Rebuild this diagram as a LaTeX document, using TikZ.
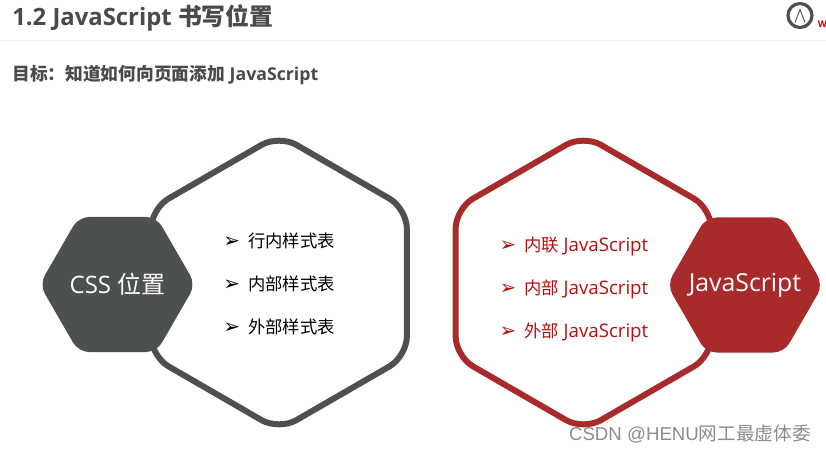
\documentclass[tikz,border=0pt]{standalone}
\usepackage{fontspec}
\setmainfont{Open Sans}
\newfontfamily\cjk{Noto Sans CJK SC}
\newfontfamily\sym{DejaVu Sans}
\newfontfamily\wmark{Liberation Sans}
\usetikzlibrary{shapes.geometric}
\definecolor{csscol}{HTML}{4D514E}
\definecolor{jscol}{HTML}{A92A2A}
\definecolor{itemred}{HTML}{B70F0F}
\definecolor{headcol}{HTML}{4A4A4A}
\newcommand{\itemmark}{{\sym\fontsize{15pt}{15pt}\selectfont ➢}\hspace{6pt}}
\newcommand{\jsword}{{\fontsize{14pt}{16pt}\selectfont JavaScript}}

\begin{document}
\begin{tikzpicture}[x=0.75pt, y=-0.75pt, node distance=32.25pt,
                    big hex/.style={regular polygon,regular polygon sides=6,shape border rotate=30,minimum size=221.5pt,
                                    inner sep=0pt,outer sep=0pt,line width=4.5pt,rounded corners=15pt,fill=white},
                    small hex/.style={regular polygon,regular polygon sides=6,
                                    minimum size=117pt,inner sep=0pt,outer sep=0pt,rounded corners=8pt,
                                    text=white,font=\fontsize{18.6pt}{22pt}\selectfont},
                    list item/.style={inner sep=0pt,font=\fontsize{13pt}{16pt}\selectfont},
                    head text/.style={anchor=west,inner sep=0pt,text=headcol,font=\bfseries}]

  \useasboundingbox (0,0) rectangle (826,454);

  % header
  \node[head text,font=\bfseries\fontsize{17.9pt}{21pt}\selectfont] (title) at (12,18) {1.2 JavaScript {\cjk 书写位置}};
  \node[head text,font=\bfseries\fontsize{13.3pt}{16pt}\selectfont] (goal) at (12,74.5) {{\cjk 目标：知道如何向页面添加} JavaScript};
  \draw[color=black!5] (0,40) -- (826,40);

  % logo
  \node[circle,draw=csscol,line width=2.4pt,minimum size=18pt,inner sep=0pt] (logo) at (800,15.5) {};
  \draw[csscol,line width=0.7pt] (logo.center) ++(-5,7) -- ++(5,-13) -- ++(5,13);
  \node[inner sep=0pt,text=red!80!black,font=\bfseries\fontsize{7pt}{7pt}\selectfont] (logow) at (822.5,24) {W};

  % css side
  \node[big hex,draw=csscol] (cssbig) at (279,282.5) {};
  \node[small hex,fill=csscol,font=\fontsize{18pt}{22pt}\selectfont] (csshex) at (117.5,284.5) {\makebox[20pt]{CSS {\cjk 位置}}};

  \node[list item] (css1) at (279,241) {\itemmark{\cjk 行内样式表}};
  \node[list item] (css2) [below of=css1] {\itemmark{\cjk 内部样式表}};
  \node[list item] (css3) [below of=css2] {\itemmark{\cjk 外部样式表}};

  % js side
  \node[big hex,draw=jscol] (jsbig) at (583.5,282.5) {};
  \node[small hex,fill=jscol] (jshex) at (745,285) {\makebox[20pt]{\raisebox{-1.5pt}{JavaScript}}};

  \node[list item,text=itemred] (js1) at (574,246) {\itemmark{\cjk 内联} \jsword};
  \node[list item,text=itemred] (js2) [below of=js1] {\itemmark{\cjk 内部} \jsword};
  \node[list item,text=itemred] (js3) [below of=js2] {\itemmark{\cjk 外部} \jsword};

  % watermark
  \node[inner sep=0pt,text=black!45,font=\fontsize{14pt}{17pt}\selectfont] (wm) at (690,434) {\wmark CSDN @HENU{\cjk 网工最虚体委}};

\end{tikzpicture}
\end{document}
